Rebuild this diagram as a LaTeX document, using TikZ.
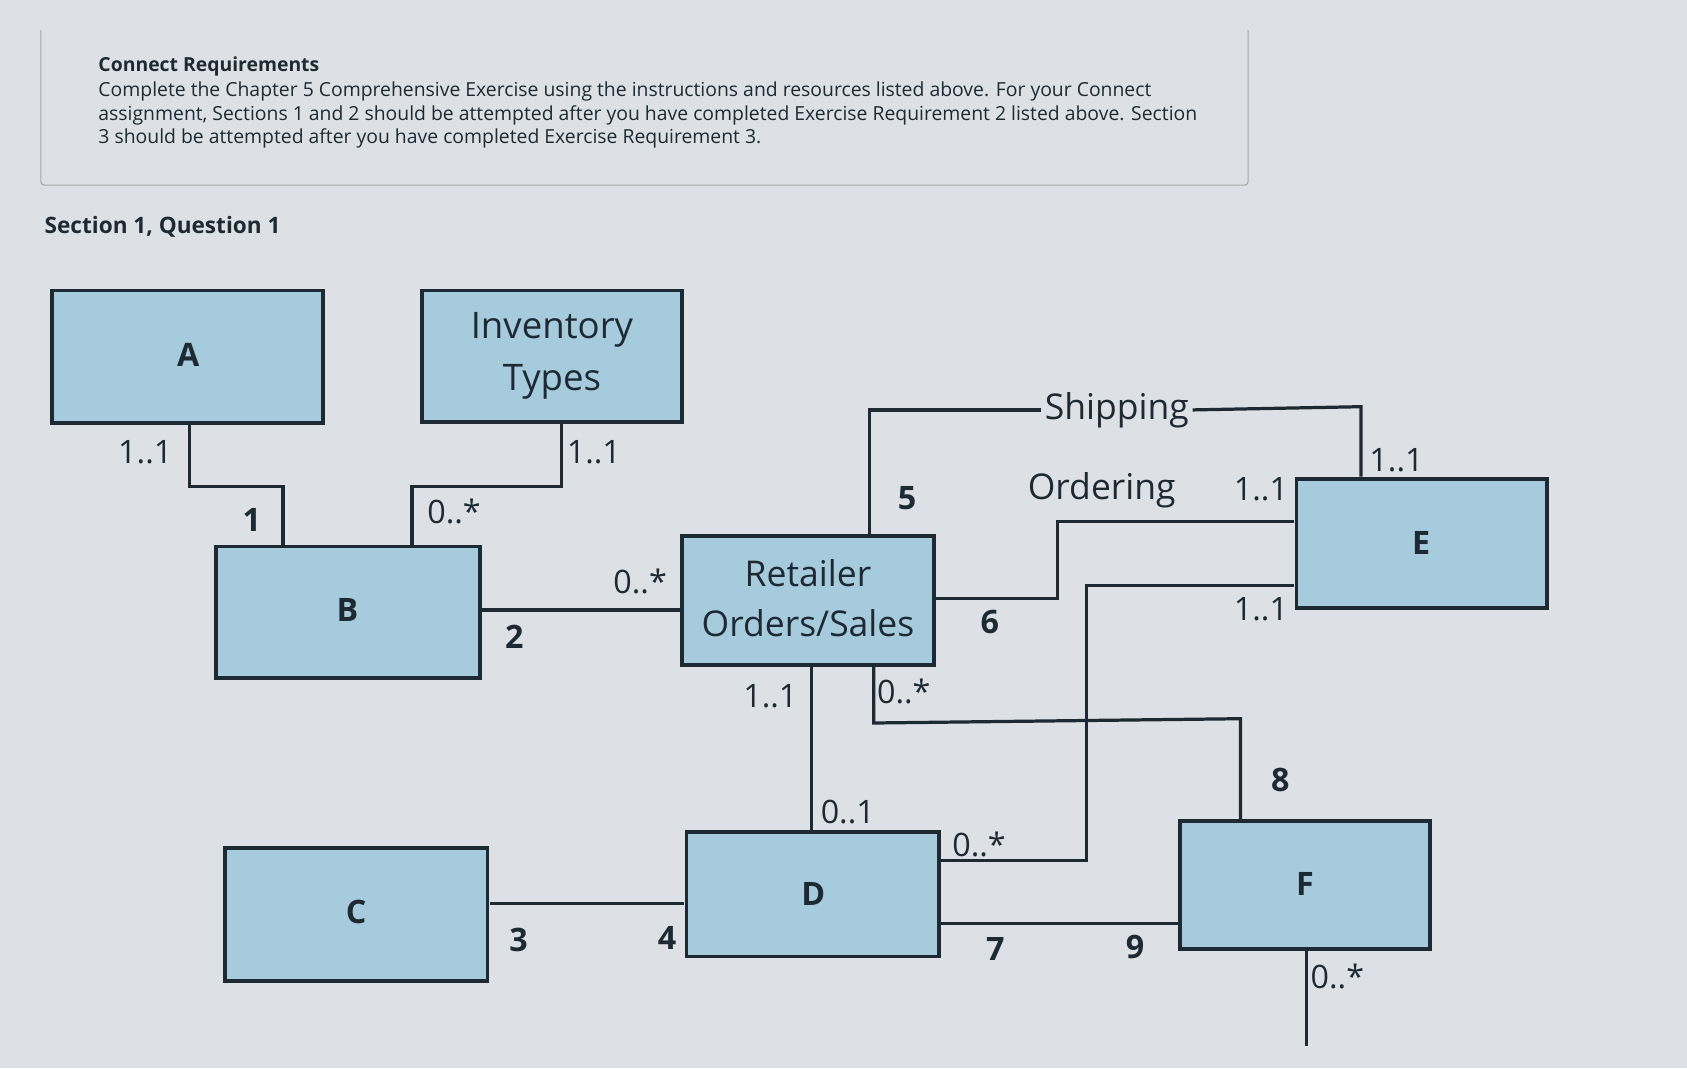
\documentclass[tikz,border=0pt]{standalone}
\usepackage{fontspec}
\setmainfont{Open Sans}
\definecolor{boxfill}{HTML}{A6CBDD}
\definecolor{bgc}{HTML}{DDE1E5}
\definecolor{ink}{HTML}{1E2A33}
\begin{document}
\begin{tikzpicture}[x=1pt,y=-1pt,
 ent/.style={draw=ink,line width=3.5pt,fill=boxfill,inner sep=0pt},
 conn/.style={draw=ink,line width=3pt},
 lbl/.style={font=\fontsize{30}{32}\selectfont,text=ink},
 bl/.style={font=\fontsize{30}{32}\selectfont\bfseries,text=ink},
 hdr/.style={font=\fontsize{18}{22}\selectfont,anchor=west,text=ink}]
\fill[fill=bgc] (0,0) rectangle (1568,993);
\useasboundingbox (0,0) rectangle (1568,993);
\draw[gray!70,line width=1pt,rounded corners=3pt] (38,28) -- (38,172) -- (1160,172) -- (1160,28);
\node[hdr,font=\fontsize{18}{22}\selectfont\bfseries] (t0) at (88,62) {Connect Requirements};
\node[hdr] (t1) at (88,85) {Complete the Chapter 5 Comprehensive Exercise using the instructions and resources listed above. For your Connect};
\node[hdr] (t2) at (88,107) {assignment, Sections 1 and 2 should be attempted after you have completed Exercise Requirement 2 listed above. Section};
\node[hdr] (t3) at (88,129) {3 should be attempted after you have completed Exercise Requirement 3.};
\node[hdr,font=\fontsize{21}{24}\selectfont\bfseries] (sec) at (38,211) {Section 1, Question 1};
% entities
\path[ent] (48,270) rectangle (300,393); \node[bl] (A) at (175,330) {A};
\path[ent] (392,270) rectangle (634,392); \node[lbl,align=center,font=\fontsize{34}{48}\selectfont] (I) at (513,331) {Inventory\\Types};
\path[ent] (201,508) rectangle (446,630); \node[bl] (B) at (323,567) {B};
\path[ent] (634,498) rectangle (868,618); \node[lbl,align=center,font=\fontsize{33}{46}\selectfont] (R) at (751,556) {Retailer\\Orders/Sales};
\path[ent] (1205,445) rectangle (1438,565); \node[bl] (E) at (1321,505) {E};
\path[ent] (209,788) rectangle (453,912); \node[bl] (C) at (331,848) {C};
\path[ent] (638,773) rectangle (873,889); \node[bl] (D) at (756,831) {D};
\path[ent] (1097,763) rectangle (1329,882); \node[bl] (F) at (1213,822) {F};
% connectors
\draw[conn] (176,395) -- (176,452) -- (263,452) -- (263,507);
\draw[conn] (522,394) -- (522,452) -- (383,452) -- (383,507);
\draw[conn] (448,567) -- (632,567);
\node[lbl,font=\fontsize{33}{36}\selectfont] (ship) at (1038,381) {Shipping};
\draw[conn] (808,496) -- (808,381) -- (ship.west);
\draw[conn] (ship.east) -- (1265,378) -- (1265,443);
\node[lbl,font=\fontsize{33}{36}\selectfont] (ord) at (1024,456) {Ordering};
\draw[conn] (870,556) -- (983,556) -- (983,485) -- (1203,485);
\draw[conn] (875,800) -- (1010,800) -- (1010,544) -- (1203,544);
\draw[conn] (812,620) -- (812,672) -- (1153,668) -- (1153,761);
\draw[conn] (754,620) -- (754,771);
\draw[conn] (455,840) -- (636,840);
\draw[conn] (875,858) -- (1095,858);
\coordinate (fe) at (1214,972);
\draw[conn] (1214,884) -- (fe);
% labels
\node[lbl] at (135,420) {1..1};
\node[bl] at (234,483) {1};
\node[lbl] at (552,420) {1..1};
\node[lbl] at (422,475) {0..*};
\node[bl] at (478,592) {2};
\node[lbl] at (595,540) {0..*};
\node[bl] at (843,463) {5};
\node[lbl] at (1298,428) {1..1};
\node[lbl] at (1172,455) {1..1};
\node[bl] at (920,578) {6};
\node[lbl] at (910,785) {0..*};
\node[lbl] at (1172,566) {1..1};
\node[lbl] at (840,643) {0..*};
\node[bl] at (1190,725) {8};
\node[lbl] at (716,647) {1..1};
\node[lbl] at (788,755) {0..1};
\node[bl] at (482,874) {3};
\node[bl] at (620,872) {4};
\node[bl] at (925,882) {7};
\node[bl] at (1055,880) {9};
\node[lbl] at (1243,908) {0..*};
\end{tikzpicture}
\end{document}
